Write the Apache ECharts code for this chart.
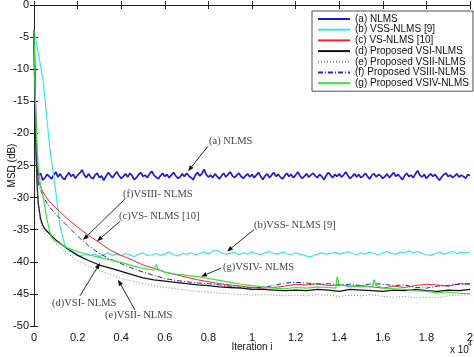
<!DOCTYPE html>
<html><head><meta charset="utf-8">
<script src="https://cdn.jsdelivr.net/npm/echarts@6/dist/echarts.min.js"></script>
<style>html,body{margin:0;padding:0;background:#fff}#c{width:474px;height:357px}</style>
</head><body><div id="c"></div>
<script>
// ---------- DATA ----------
const SERIES_NAMES = ['(a) NLMS','(b) VSS-NLMS [9]','(c) VS-NLMS [10]','(d) Proposed VSI-NLMS','(e) Proposed VSII-NLMS','(f) Proposed VSIII-NLMS','(g) Proposed VSIV-NLMS'];
const X_TICKS = [0,0.2,0.4,0.6,0.8,1,1.2,1.4,1.6,1.8,2];  // x 10^4
const Y_TICKS = [0,-5,-10,-15,-20,-25,-30,-35,-40,-45,-50];

// (a) NLMS
const NLMS_HEAD_IT = [0,50,100,150];
const NLMS_HEAD = [-4,-14,-21,-25];
const NLMS_TAIL_START = 200, NLMS_TAIL_STEP = 100;
const NLMS_TAIL = [
-26.6,-26.2,-27.3,-26.9,-26.4,-26.7,-27.1,-26.5,-26.0,-26.8,
-26.3,-26.9,-27.2,-26.6,-26.1,-26.7,-26.4,-27.0,-26.5,-26.2,
-25.7,-26.4,-26.9,-26.3,-26.8,-27.1,-26.5,-26.2,-26.9,-26.6,
-27.3,-26.7,-26.1,-26.5,-26.9,-26.4,-26.0,-26.6,-27.0,-26.7,
-26.3,-26.8,-26.2,-26.6,-27.2,-26.9,-26.4,-26.1,-26.7,-26.5,
-26.9,-26.3,-25.9,-26.5,-26.8,-27.1,-26.6,-26.2,-26.7,-26.4,
-26.9,-26.5,-26.1,-26.6,-27.0,-26.8,-26.3,-26.7,-26.2,-26.6,
-26.9,-27.2,-26.5,-26.1,-26.6,-26.3,-25.6,-26.4,-26.8,-26.5,
-26.9,-26.3,-26.7,-27.1,-26.6,-26.2,-26.8,-26.4,-26.0,-26.6,
-26.9,-26.5,-26.2,-26.7,-27.0,-26.6,-26.3,-26.8,-26.4,-26.9,
-26.5,-26.1,-26.7,-27.2,-26.6,-26.3,-26.9,-26.5,-26.1,-26.7,
-26.4,-26.8,-27.1,-26.6,-26.2,-26.7,-26.4,-26.9,-26.5,-26.0,
-26.6,-27.0,-26.7,-26.3,-26.8,-26.5,-26.2,-26.6,-26.9,-26.4,
-26.7,-27.2,-26.6,-26.1,-26.5,-26.9,-26.4,-26.7,-26.3,-26.8,
-26.5,-26.0,-26.6,-27.0,-26.7,-26.3,-26.8,-26.4,-26.9,-26.6,
-26.2,-26.7,-27.1,-26.5,-26.3,-26.8,-26.4,-26.6,-27.0,-26.7,
-26.3,-26.9,-26.5,-26.1,-26.7,-26.4,-26.8,-27.2,-26.6,-26.2,
-26.7,-26.5,-26.9,-26.3,-25.8,-26.5,-26.8,-26.4,-27.0,-26.6,
-26.3,-26.7,-26.4,-26.9,-27.3,-26.8,-26.4,-26.2,-26.7,-26.5,
-26.9,-26.6,-26.3,-26.8,-26.5,-26.7,-27.0,-26.4,-26.6];

// (b) VSS-NLMS [9]
const VSS_HEAD_IT = [0,200,430,730,960,1190,1420,1650];
const VSS_HEAD = [-4,-7.5,-12,-22.5,-28,-34.4,-37.5,-38.4];
const VSS_TAIL_START = 1800, VSS_TAIL_STEP = 200;
const VSS_TAIL = [
-38.5,-38.9,-39.1,-38.7,-39.0,-38.8,-39.2,-38.9,-38.6,-39.0,
-38.8,-39.1,-38.7,-38.9,-39.2,-38.8,-38.6,-39.0,-38.9,-38.7,
-39.0,-38.8,-38.5,-38.9,-39.1,-38.7,-38.8,-38.6,-38.9,-38.7,
-38.5,-38.8,-38.3,-38.2,-38.6,-38.8,-38.7,-38.5,-38.9,-38.6,
-38.8,-38.5,-38.7,-38.9,-38.6,-38.4,-38.7,-38.8,-38.5,-38.7,
-38.9,-38.6,-38.8,-39.0,-39.2,-39.1,-38.8,-38.6,-38.8,-38.7,
-38.5,-38.8,-38.6,-38.4,-38.7,-38.9,-38.6,-38.8,-38.5,-38.7,
-38.9,-38.6,-38.4,-38.7,-38.8,-38.5,-38.6,-38.3,-38.6,-38.4,
-38.7,-38.9,-39.0,-38.7,-38.5,-38.8,-38.6,-38.4,-38.7,-38.5,
-38.6,-38.5];

// shared iteration grid for (c), (d), (e), (f)
const ITER_S = [0,50,100,150,200,300,400,500,700,1000,
1500,2000,2500,3000,3500,4000,4500,5000,5500,6000,6500,7000,7500,8000,8500,9000,9500,10000,
10500,11000,11500,12000,12500,13000,13500,14000,14500,15000,15500,16000,16500,17000,17500,18000,18500,19000,19500,20000];
const VS_NLMS = [-4,-14,-21,-25,-27.3,-28.3,-29,-29.6,-30.6,-31.6,
-33.2,-34.6,-35.9,-37,-38.2,-39,-39.7,-40.5,-41,-41.6,-42,-42.4,-42.8,-43.1,-43.4,-43.6,-43.8,-44,
-44.1,-44,-43.8,-43.5,-43.6,-43.4,-43.7,-43.6,-43.8,-43.7,-43.9,-44.1,-43.8,-44,-43.7,-43.5,-43.6,-43.8,-43.4,-43.5];
const VSI = [-4,-17,-24,-28.5,-31,-33.3,-34.3,-34.9,-35.6,-36.6,
-37.9,-39,-39.8,-40.5,-41,-41.5,-42,-42.5,-42.8,-43,-43.2,-43.4,-43.6,-43.7,-43.9,-44,-44.1,-44.3,
-44.3,-44.4,-44.5,-44.4,-44.5,-44.3,-44.4,-44.6,-44.3,-44.4,-44.5,-44.6,-44.4,-44.5,-44.3,-44.5,-44.6,-44.4,-44.5,-44.3];
const VSII = [-4,-17.5,-24.5,-29,-31.5,-33.8,-34.9,-35.5,-36.2,-37.2,
-38.6,-39.8,-40.7,-41.4,-42,-42.6,-43,-43.4,-43.7,-44,-44.2,-44.4,-44.6,-44.7,-44.9,-45,-45.1,-45.2,
-45.1,-45.2,-45.3,-45.2,-45.3,-45.1,-45.2,-45.4,-45.2,-45.3,-45.1,-45.4,-45.5,-45.4,-45.6,-45.5,-45.6,-45.3,-45.2,-45.1];
const VSIII = [-4,-14,-21,-25.5,-27.8,-28.8,-29.6,-30.3,-31.4,-32.6,
-34.3,-36,-37.5,-38.7,-39.6,-40.3,-41,-41.6,-42.1,-42.6,-42.9,-43.1,-43.3,-43.4,-43.6,-43.8,-44,-44.1,
-44,-43.7,-43.3,-43.2,-43.3,-43.5,-43.4,-43.6,-43.5,-43.7,-43.4,-43.5,-43.7,-43.6,-44,-44.1,-43.8,-43.7,-43.5,-43.4];

// (g) VSIV-NLMS
const VSIV_IT = [0,50,100,150,200,300,400,500,600,700,800,1000,1500,2000,2500,3000,3500,4000,4500,5000,
5500,5600,5700,6000,6500,7000,7500,8000,8500,9000,9500,10000,10500,11000,11500,12000,12500,13000,13500,13850,
13900,14000,14500,15000,15500,15600,15700,16000,16500,17000,17500,18000,18500,19000,19500,20000];
const VSIV = [-4,-13,-19,-23,-25.5,-28,-29.5,-31.5,-33.5,-35,-36.2,-36.8,-37.8,-38.4,-38.9,-39.3,-39.7,-40.1,-40.6,-41,
-41.3,-40.4,-41.2,-41.6,-41.9,-42.1,-42.3,-42.6,-42.9,-43.2,-43.5,-43.7,-43.9,-44.1,-44.2,-44,-44.1,-43.9,-44,-44.1,
-42.3,-43.5,-43.9,-43.8,-43.9,-42.8,-43.7,-44.1,-44.2,-44.3,-44.5,-44.6,-44.8,-44.7,-44.9,-45];

// annotations: text, [text iteration, text MSD, tail iteration, tail MSD, tip iteration, tip MSD]
const ANNOT_TEXT = ['(a) NLMS','(f)VSIII- NLMS','(c)VS- NLMS [10]','(b)VSS- NLMS [9]','(g)VSIV- NLMS','(d)VSI- NLMS','(e)VSII- NLMS'];
const ANNOT_AT = [
 [8027,-21.2, 7981,-22.0, 7064,-25.9],
 [4082,-29.5, 4174,-30.2, 2248,-36.6],
 [3899,-32.9, 3945,-33.7, 2890,-36.8],
 [10091,-34.3, 10091,-35.0, 8853,-38.4],
 [8670,-40.8, 8578,-41.0, 7660,-42.3],
 [826,-46.4, 2110,-45.3, 3027,-40.2],
 [3257,-48.4, 4633,-47.5, 3853,-42.8]
];

// ---------- BUILD ----------
function pairs(it, v){ return it.map((x,i)=>[x, v[i]]); }
function stepIt(start, step, n){ const a=[]; for(let k=0;k<n;k++) a.push(start+k*step); return a; }
const nlmsData = pairs(NLMS_HEAD_IT.concat(stepIt(NLMS_TAIL_START,NLMS_TAIL_STEP,NLMS_TAIL.length)), NLMS_HEAD.concat(NLMS_TAIL));
const vssData = pairs(VSS_HEAD_IT.concat(stepIt(VSS_TAIL_START,VSS_TAIL_STEP,VSS_TAIL.length)), VSS_HEAD.concat(VSS_TAIL));

const FONT = '"Liberation Sans", Arial, sans-serif';
function line(name, data, color, width, type){
  return {name, type:'line', data, symbol:'none', showSymbol:false, animation:false,
    lineStyle:{color, width, type: type||'solid'}, itemStyle:{color}, clip:true};
}
const series = [
  line(SERIES_NAMES[0], nlmsData, '#1c1cd0', 1.7),
  line(SERIES_NAMES[1], vssData, '#3ae8e8', 1.2),
  line(SERIES_NAMES[2], pairs(ITER_S, VS_NLMS), '#ec2a2a', 1),
  line(SERIES_NAMES[3], pairs(ITER_S, VSI), '#111111', 1.3),
  line(SERIES_NAMES[4], pairs(ITER_S, VSII), '#888888', 1, [1,2]),
  line(SERIES_NAMES[5], pairs(ITER_S, VSIII), '#2626c8', 1, [5,2,1,2]),
  line(SERIES_NAMES[6], pairs(VSIV_IT, VSIV), '#3ce03c', 1.2),
  {
    type:'custom', silent:true, animation:false, clip:false, z:10,
    data: ANNOT_AT,
    renderItem: function(params, api){
      const i = params.dataIndex;
      const t = api.coord([api.value(0), api.value(1)]);
      const a = api.coord([api.value(2), api.value(3)]);
      const b = api.coord([api.value(4), api.value(5)]);
      const dx=b[0]-a[0], dy=b[1]-a[1], L=Math.sqrt(dx*dx+dy*dy)||1;
      const ux=dx/L, uy=dy/L, hl=6, hw=2.3;
      const bx=b[0]-ux*hl, by=b[1]-uy*hl;
      return {type:'group', children:[
        {type:'line', shape:{x1:a[0],y1:a[1],x2:bx,y2:by}, style:{stroke:'#111',lineWidth:0.9}},
        {type:'polygon', shape:{points:[[b[0],b[1]],[bx-uy*hw,by+ux*hw],[bx+uy*hw,by-ux*hw]]}, style:{fill:'#111'}},
        {type:'text', style:{text:ANNOT_TEXT[i], x:t[0], y:t[1], fill:'#444', fontSize:10.5,
          fontFamily:'"Liberation Serif", "DejaVu Serif", serif', verticalAlign:'middle', align:'left'}}
      ]};
    }
  }
];

const axisCommonX = {type:'value', min:0, max:20000, interval:2000,
  axisLine:{show:true,lineStyle:{color:'#222',width:1}}, splitLine:{show:false},
  axisTick:{show:true, inside:true, length:4, lineStyle:{color:'#222'}}};
const axisCommonY = {type:'value', min:-50, max:0, interval:5,
  axisLine:{show:true,lineStyle:{color:'#222',width:1}}, splitLine:{show:false},
  axisTick:{show:true, inside:true, length:4, lineStyle:{color:'#222'}}};

const option = {
  backgroundColor:'#fff',
  animation:false,
  grid:{left:34, right:4, top:5, bottom:31, containLabel:false, outerBoundsMode:'none'},
  xAxis:[
    Object.assign({}, axisCommonX, {position:'bottom',
      name:'Iteration i', nameLocation:'middle', nameGap:21, nameMoveOverlap:false,
      nameTextStyle:{color:'#111', fontSize:10, fontFamily:FONT, verticalAlign:'middle'},
      axisLabel:{color:'#111', fontSize:11, fontFamily:FONT, margin:6,
        formatter: v => { const k = Math.round(v/2000); return String(X_TICKS[k]); }}}),
    Object.assign({}, axisCommonX, {position:'top', axisLabel:{show:false}})
  ],
  yAxis:[
    Object.assign({}, axisCommonY, {position:'left',
      name:'MSD (dB)', nameLocation:'middle', nameGap:22, nameRotate:90, nameMoveOverlap:false,
      nameTextStyle:{color:'#111', fontSize:10, fontFamily:FONT, verticalAlign:'middle'},
      axisLabel:{color:'#111', fontSize:11, fontFamily:FONT, margin:5,
        formatter: v => { const k = Math.round(-v/5); return String(Y_TICKS[k]); }}}),
    Object.assign({}, axisCommonY, {position:'right', axisLabel:{show:false}})
  ],
  legend:{
    data: SERIES_NAMES, orient:'vertical', left:312, top:11,
    itemWidth:32, itemHeight:10, itemGap:0.7, padding:[3,4,3,5],
    backgroundColor:'#fff', borderColor:'#222', borderWidth:0.8,
    itemStyle:{color:'rgba(0,0,0,0)', borderWidth:0, opacity:0},
    textStyle:{color:'#111', fontSize:10, fontFamily:FONT, lineHeight:10},
    selectedMode:false
  },
  graphic:[
    {type:'text', left:450, top:345, style:{text:'x 10', fill:'#111', fontSize:10, fontFamily:FONT}},
    {type:'text', left:468, top:341, style:{text:'4', fill:'#111', fontSize:7, fontFamily:FONT}}
  ],
  series
};
const chart = echarts.init(document.getElementById('c'), null, {renderer:'canvas'});
chart.setOption(option);
</script></body></html>
